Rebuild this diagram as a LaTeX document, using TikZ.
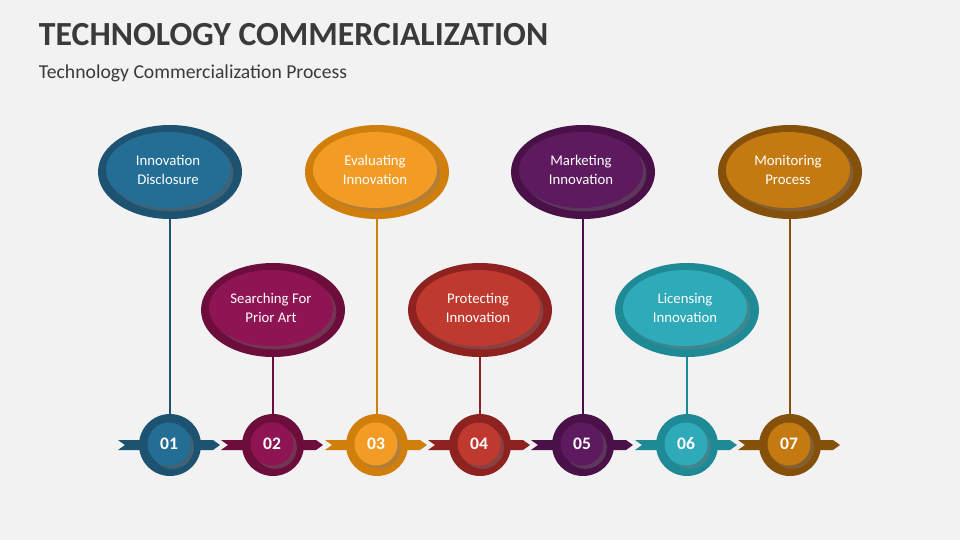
\documentclass[tikz,border=0pt]{standalone}
\usepackage{fontspec}
\setmainfont{Carlito}
\usetikzlibrary{shapes,positioning,calc,shadows}
\definecolor{bgc}{HTML}{F2F2F2}
\definecolor{txc}{HTML}{3A3A3A}
\definecolor{oa}{HTML}{1D5371}\definecolor{ia}{HTML}{246E96}
\definecolor{ob}{HTML}{6D0D3C}\definecolor{ib}{HTML}{8F1453}
\definecolor{oc}{HTML}{D07E0C}\definecolor{ic}{HTML}{F29B25}
\definecolor{od}{HTML}{8E2220}\definecolor{id}{HTML}{C0392F}
\definecolor{oe}{HTML}{4A1048}\definecolor{ie}{HTML}{5E1A5E}
\definecolor{of}{HTML}{1E8A96}\definecolor{if}{HTML}{2EAAB8}
\definecolor{og}{HTML}{84500A}\definecolor{ig}{HTML}{C47A10}
\begin{document}
\begin{tikzpicture}[x=0.025cm,y=-0.025cm]

\tikzstyle{outerell}=[ellipse, minimum width=144*0.025cm, minimum height=94*0.025cm, inner sep=0pt]
\tikzstyle{innerell}=[ellipse, minimum width=124*0.025cm, minimum height=76*0.025cm, inner sep=0pt,
text=white, align=center, font=\fontsize{10.5}{13}\selectfont, drop shadow={opacity=0.35}]
\tikzstyle{outerdot}=[circle, minimum size=62*0.025cm, inner sep=0pt]
\tikzstyle{innerdot}=[circle, minimum size=43*0.025cm, inner sep=0pt, text=white,
font=\fontsize{12.5}{14}\bfseries, drop shadow={opacity=0.35}]

% background
\fill[bgc] (0,0) rectangle (960,540);

% title
\node[anchor=west, text=txc, font=\fontsize{24}{28}\bfseries] (title) at (34,35) {TECHNOLOGY COMMERCIALIZATION};
\node[anchor=west, text=txc, font=\fontsize{14}{17}\selectfont] (subtitle) at (34,73) {Technology Commercialization Process};

% steps
\foreach \i/\x/\y/\oc/\ic/\txt in {
1/170/172/oa/ia/{Innovation\\Disclosure},
2/273/310/ob/ib/{Searching For\\Prior Art},
3/377/172/oc/ic/{Evaluating\\Innovation},
4/480/310/od/id/{Protecting\\Innovation},
5/583/172/oe/ie/{Marketing\\Innovation},
6/687/310/of/if/{Licensing\\Innovation},
7/790/172/og/ig/{Monitoring\\Process}}{
  % ribbon piece
  \fill[\oc] (\x-52,440) -- (\x+43,440) -- (\x+50,445) -- (\x+43,450) -- (\x-52,450) -- (\x-45,445) -- cycle;
  % ellipse
  \node[outerell, fill=\oc] (oell\i) at (\x,\y) {};
  \node[innerell, fill=\ic] (ell\i) at (\x-2,\y-2) {\txt};
  % number
  \node[outerdot, fill=\oc] (odot\i) at (\x,445) {};
  \node[innerdot, fill=\ic] (dot\i) at (\x-1,444) {0\i};
  \draw[\oc, line width=1.5pt] (oell\i.south) -- (odot\i.north);
}

\end{tikzpicture}
\end{document}
